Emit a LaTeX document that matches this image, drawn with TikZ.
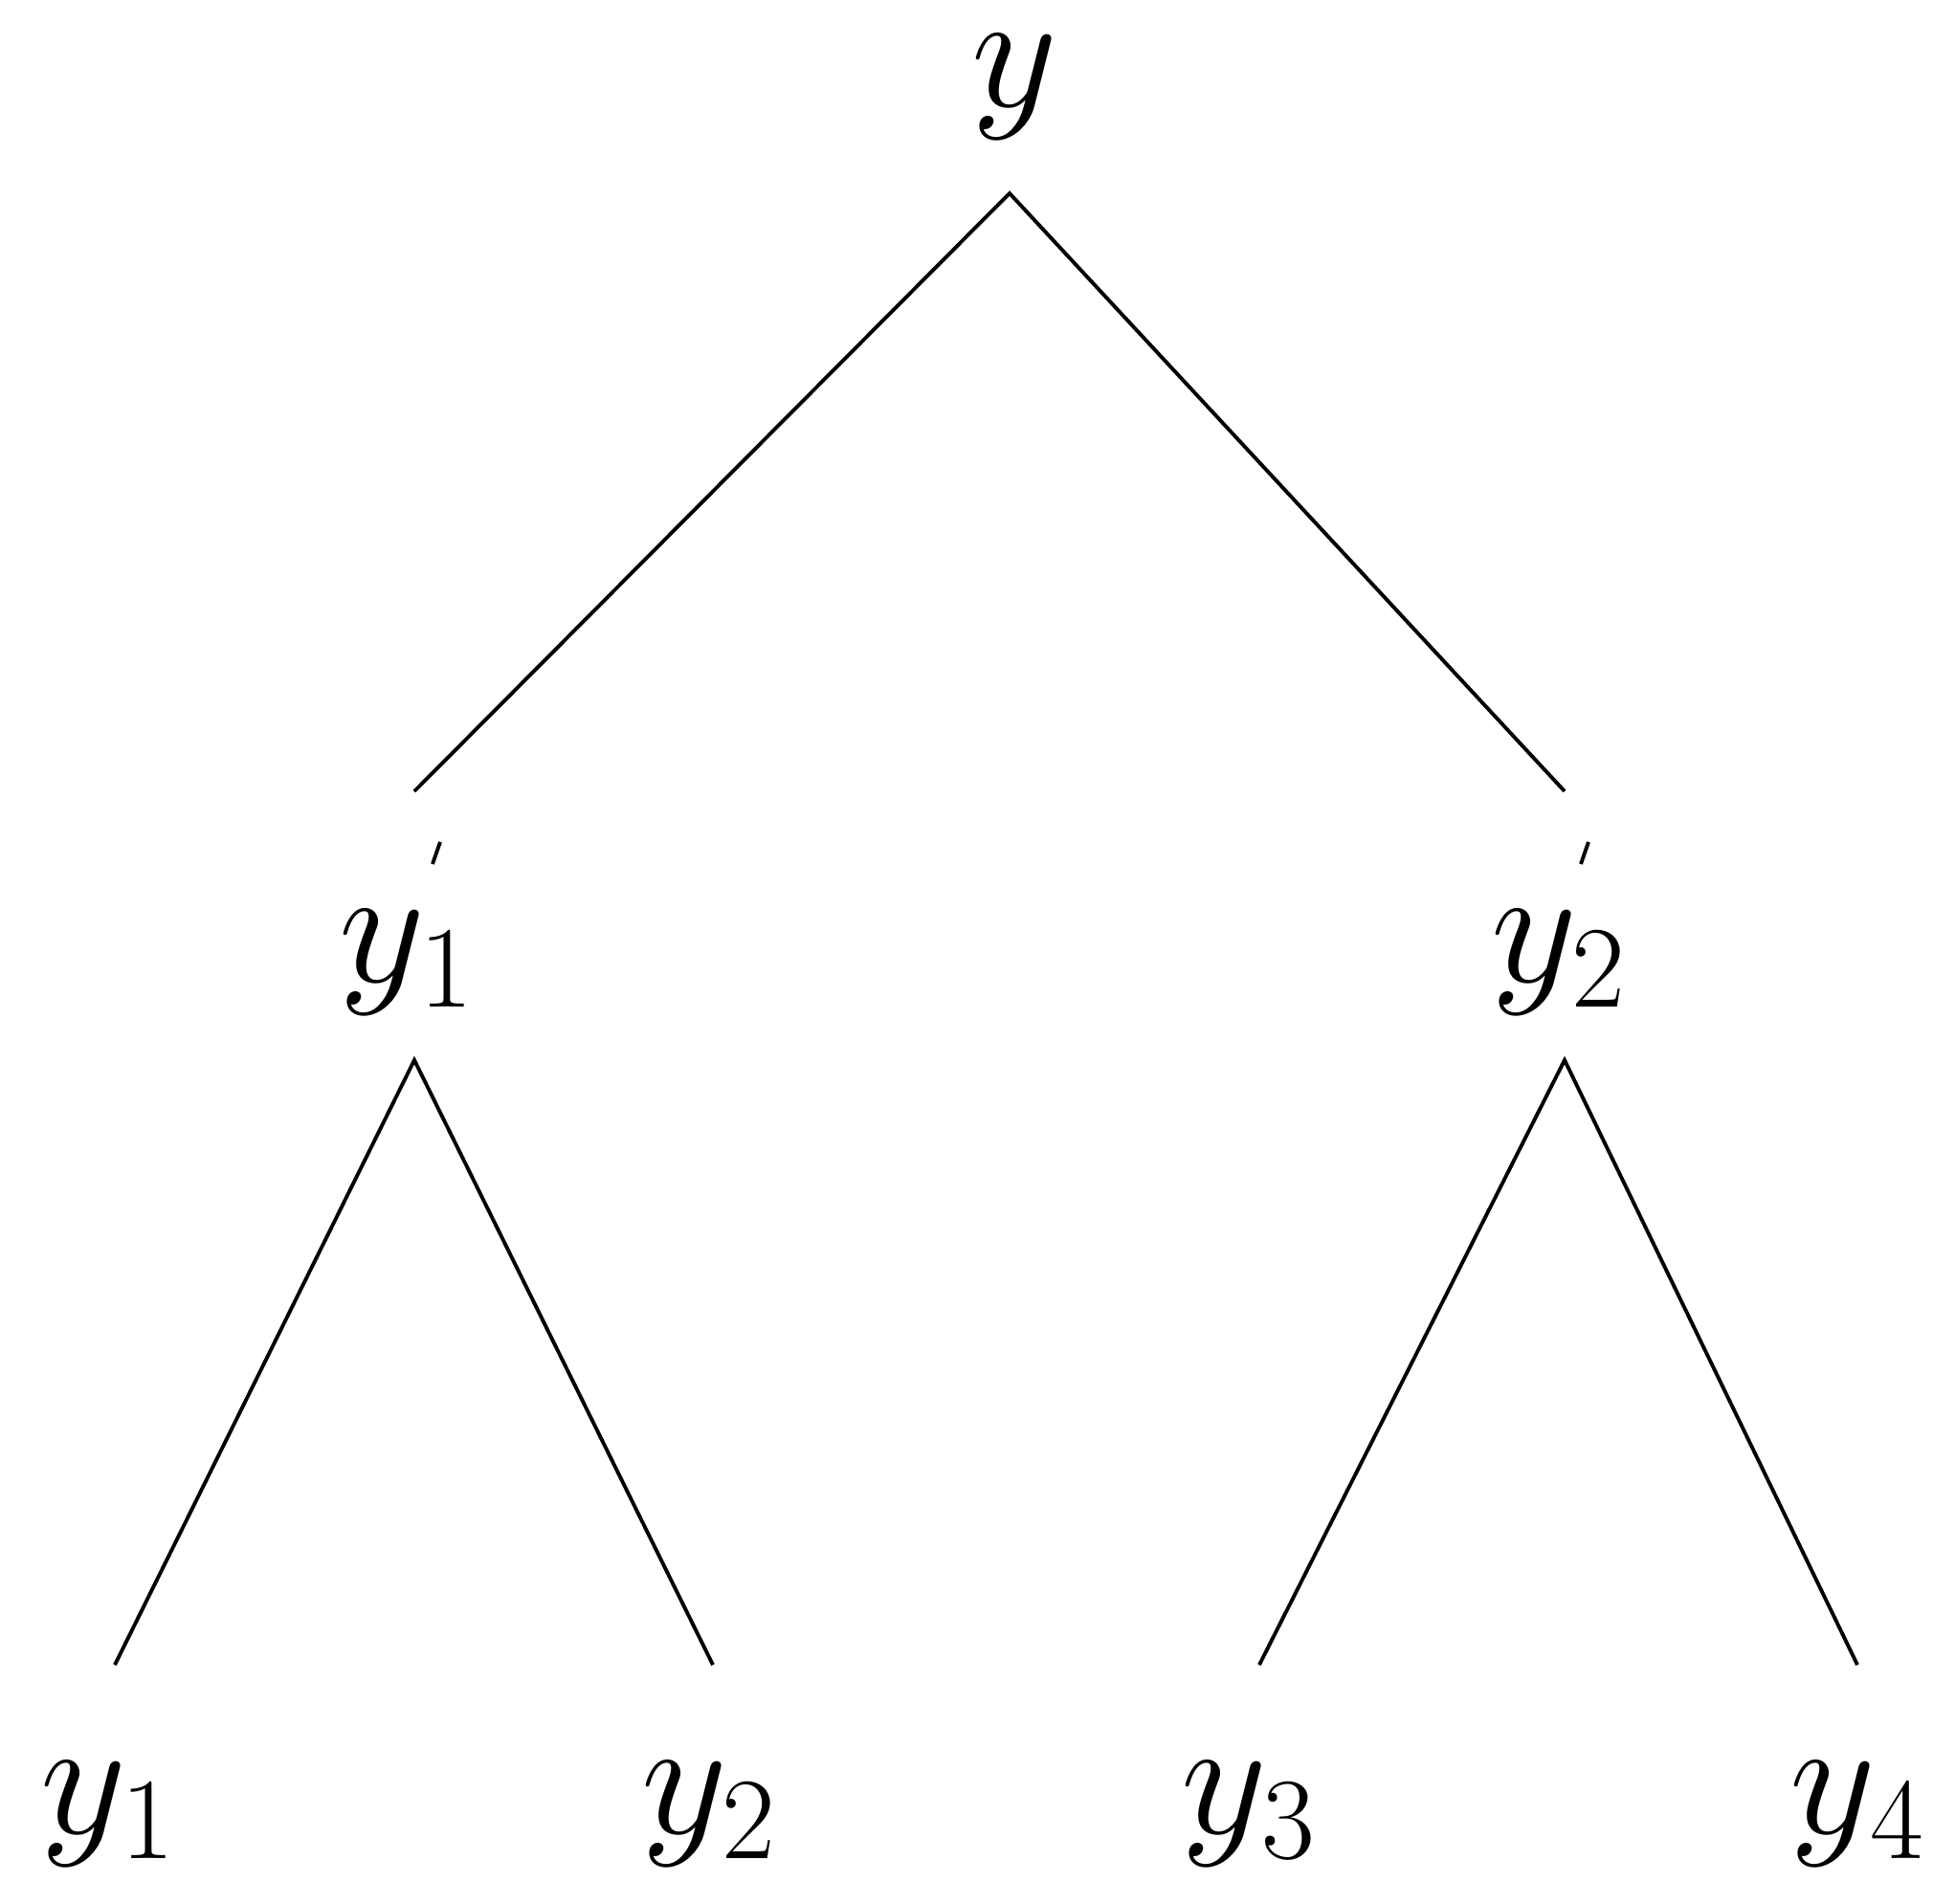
\documentclass[tikz,border=0pt]{standalone}
\begin{document}
\begin{tikzpicture}[every node/.style={font=\fontsize{25}{30}\selectfont, inner sep=0pt}, line width=0.55pt]
\useasboundingbox (0,0) rectangle (10.215,9.945);

\node (y) at (5.30,9.49) {$y$};
\node (ya) at (2.13,4.915) {$y_1$};
\node (yb) at (8.15,4.915) {$y_2$};
\node (y1) at (0.57,0.465) {$y_1$};
\node (y2) at (3.71,0.465) {$y_2$};
\node (y3) at (6.53,0.465) {$y_3$};
\node (y4) at (9.71,0.465) {$y_4$};

\coordinate (y-s) at (5.275,8.935);
\coordinate (ya-n) at (2.165,5.81);
\coordinate (yb-n) at (8.175,5.81);
\coordinate (ya-s) at (2.165,4.405);
\coordinate (yb-s) at (8.175,4.405);
\coordinate (y1-n) at (0.60,1.245);
\coordinate (y2-n) at (3.725,1.245);
\coordinate (y3-n) at (6.58,1.245);
\coordinate (y4-n) at (9.705,1.245);

\draw (ya-n) -- (y-s) -- (yb-n);
\draw (y1-n) -- (ya-s) -- (y2-n);
\draw (y3-n) -- (yb-s) -- (y4-n);

\draw (2.30,5.545) -- (2.26,5.43);
\draw (8.30,5.545) -- (8.26,5.43);
\end{tikzpicture}
\end{document}
